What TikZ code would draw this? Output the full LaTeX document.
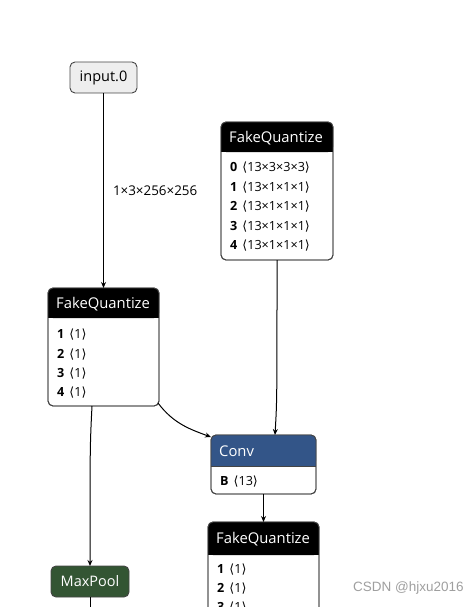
\documentclass[tikz,border=0pt]{standalone}
\usepackage{fontspec}
\setmainfont{Open Sans}
\newfontfamily\wmfont{Liberation Sans}
\newfontfamily\symfont{DejaVu Sans}
\usetikzlibrary{positioning, arrows.meta, calc}
\definecolor{ConvBlue}{HTML}{335588}
\definecolor{PoolGreen}{HTML}{335533}
\definecolor{EdgeGray}{HTML}{444444}
\newcommand{\tens}[2]{\textbf{#1}\hspace{5pt}{\symfont ⟨}#2{\symfont ⟩}}

\begin{document}
\begin{tikzpicture}[x=1pt, y=-1pt,
  box/.style={draw=EdgeGray, line width=0.9pt, rounded corners=5pt, fill=white,
              outer sep=0pt, inner sep=0pt},
  hdr/.style={anchor=west, text=white, font=\fontsize{14.8}{17}\selectfont, inner sep=0pt},
  row/.style={anchor=west, font=\fontsize{12.6}{15}\selectfont, inner sep=0pt},
  lbl/.style={anchor=west, font=\fontsize{13.4}{16}\selectfont, inner sep=0pt},
  wm/.style={anchor=west, font=\wmfont\fontsize{13.5}{16}\selectfont, text=gray!75, inner sep=0pt},
  arr/.style={-{Stealth[length=6pt, width=5pt]}, line width=1pt},
]
  \useasboundingbox (0,0) rectangle (475,607);

  % input
  \node[box, fill=gray!13, minimum width=67pt, minimum height=31pt,
        font=\fontsize{14.5}{17}\selectfont] (input0) at (103.5,77.5) {input.0};

  % weight quantizer
  \node[box, minimum width=112pt, minimum height=138pt] (fqw) at (277,191) {};
  \fill[black, rounded corners=5pt] (fqw.north west) rectangle ($(fqw.north east)+(0,30)$);
  \fill[black] ($(fqw.north west)+(0,15)$) rectangle ($(fqw.north east)+(0,30)$);
  \draw[box, fill=none] (fqw.north west) rectangle (fqw.south east);
  \node[hdr] (fqw-t) at ($(fqw.north west)+(8,16)$) {FakeQuantize};
  \foreach \i/\v [count=\k from 0] in {0/13×3×3×3, 1/13×1×1×1, 2/13×1×1×1, 3/13×1×1×1, 4/13×1×1×1}
    \node[row] (fqw-r\i) at ($(fqw.north west)+(9,{46+19.5*\k})$) {\tens{\i}{\v}};

  % activation quantizer
  \node[box, minimum width=111pt, minimum height=118pt] (fqa) at (103.5,347) {};
  \fill[black, rounded corners=5pt] (fqa.north west) rectangle ($(fqa.north east)+(0,30)$);
  \fill[black] ($(fqa.north west)+(0,15)$) rectangle ($(fqa.north east)+(0,30)$);
  \draw[box, fill=none] (fqa.north west) rectangle (fqa.south east);
  \node[hdr] (fqa-t) at ($(fqa.north west)+(8,16)$) {FakeQuantize};
  \foreach \i [count=\k from 0] in {1,2,3,4}
    \node[row] (fqa-r\i) at ($(fqa.north west)+(9,{47+19.3*\k})$) {\tens{\i}{1}};

  % conv
  \node[box, minimum width=105pt, minimum height=59pt] (conv) at (263.5,464.5) {};
  \fill[ConvBlue, rounded corners=5pt] (conv.north west) rectangle ($(conv.north east)+(0,31)$);
  \fill[ConvBlue] ($(conv.north west)+(0,15)$) rectangle ($(conv.north east)+(0,31)$);
  \draw[EdgeGray, line width=0.6pt] ($(conv.north west)+(0,31)$) -- ($(conv.north east)+(0,31)$);
  \draw[box, fill=none] (conv.north west) rectangle (conv.south east);
  \node[hdr] (conv-t) at ($(conv.north west)+(8,16.5)$) {Conv};
  \node[row] (conv-rb) at ($(conv.north west)+(9,47)$) {\tens{B}{13}};

  % output quantizer
  \node[box, minimum width=111pt, minimum height=118pt] (fqb) at (263.5,581) {};
  \fill[black, rounded corners=5pt] (fqb.north west) rectangle ($(fqb.north east)+(0,33)$);
  \fill[black] ($(fqb.north west)+(0,15)$) rectangle ($(fqb.north east)+(0,33)$);
  \draw[box, fill=none] (fqb.north west) rectangle (fqb.south east);
  \node[hdr] (fqb-t) at ($(fqb.north west)+(8,17.5)$) {FakeQuantize};
  \foreach \i [count=\k from 0] in {1,2,3}
    \node[row] (fqb-r\i) at ($(fqb.north west)+(9,{48+19*\k})$) {\tens{\i}{1}};

  % pool
  \node[box, fill=PoolGreen, text=white, minimum width=78pt, minimum height=31pt,
        font=\fontsize{14.5}{17}\selectfont] (pool) at (90,581.5) {MaxPool};
  \coordinate (poolout) at ($(pool.south)+(0,15)$);

  % edges
  \draw[arr] (input0) -- node[lbl, xshift=9pt] {1×3×256×256} (fqa);
  \draw[arr] (fqw.south) .. controls ($(fqw.south)+(0,140)$) .. ($(conv.north)+(11.5,0)$);
  \draw[arr] ($(fqa.south east)+(-1,-3)$) .. controls +(15,20) and +(-22,-8) .. ($(conv.north west)+(0,2)$);
  \draw[arr] ($(fqa.south)+(-11.5,0)$) .. controls +(-2,40) .. (pool.north);
  \draw[arr] (conv) -- (fqb);
  \draw[line width=1pt] (pool) -- (poolout);

  \node[wm] (mark) at (353,588) {CSDN @hjxu2016};
\end{tikzpicture}
\end{document}
